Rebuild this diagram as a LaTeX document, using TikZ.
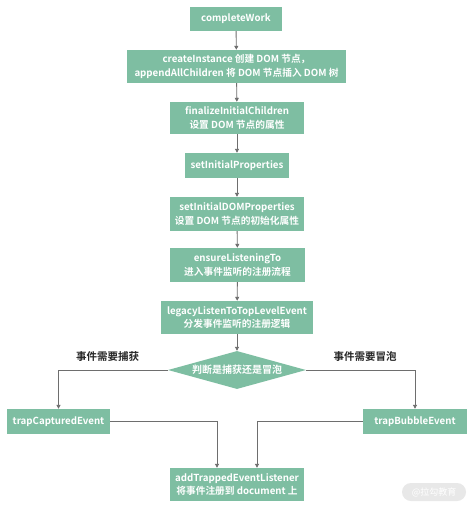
\documentclass[tikz,border=0pt]{standalone}
\usepackage{fontspec}
\setmainfont{Noto Sans CJK SC}[BoldFont={Noto Sans CJK SC Bold}]
\usetikzlibrary{arrows.meta,shapes.geometric}
\definecolor{boxgreen}{RGB}{126,190,162}
\definecolor{linegray}{RGB}{110,110,110}
\definecolor{wmgray}{RGB}{232,232,232}
\tikzset{
  stepbox/.style={fill=boxgreen,draw=none,text=white,font=\bfseries\fontsize{9.7}{13.5}\selectfont,align=center,inner sep=0pt},
  conn/.style={draw=linegray,line width=0.9pt,-{Triangle[length=4pt,width=4pt]}},
  lbl/.style={font=\bfseries\fontsize{10.5}{13}\selectfont,text=black!85}
}
\begin{document}
\begin{tikzpicture}[x=1pt,y=-1pt]
\useasboundingbox[fill=white] (0,0) rectangle (474,508);
\node[stepbox,minimum width=92pt,minimum height=24pt] (cw) at (236,19) {completeWork};
\node[stepbox,minimum width=219pt,minimum height=33pt] (ci) at (236.5,66.5) {createInstance 创建 DOM 节点，\\appendAllChildren 将 DOM 节点插入 DOM 树};
\node[stepbox,minimum width=134pt,minimum height=32pt] (fi) at (237,118) {finalizeInitialChildren\\设置 DOM 节点的属性};
\node[stepbox,minimum width=104pt,minimum height=25pt] (sp) at (237,165.5) {setInitialProperties};
\node[stepbox,minimum width=134pt,minimum height=34pt] (sd) at (237,214) {setInitialDOMProperties\\设置 DOM 节点的初始化属性};
\node[stepbox,minimum width=135pt,minimum height=34pt] (el) at (237.5,265) {ensureListeningTo\\进入事件监听的注册流程};
\node[stepbox,minimum width=152pt,minimum height=33pt] (lg) at (237,317.5) {legacyListenToTopLevelEvent\\分发事件监听的注册逻辑};
\node[diamond,fill=boxgreen,text=white,font=\bfseries\fontsize{10}{13}\selectfont,inner sep=0pt,minimum width=138pt,minimum height=38pt,aspect=3.6] (dm) at (237,370) {判断是捕获还是冒泡};
\node[stepbox,minimum width=103pt,minimum height=25pt] (tc) at (58.5,421.5) {trapCapturedEvent};
\node[stepbox,minimum width=104pt,minimum height=25pt] (tb) at (415,421.5) {trapBubbleEvent};
\node[stepbox,minimum width=134pt,minimum height=33pt] (ad) at (237,484.5) {addTrappedEventListener\\将事件注册到 document 上};
\node[lbl] (lc) at (107.5,357) {事件需要捕获};
\node[lbl] (lb) at (365,357) {事件需要冒泡};
\node[fill=wmgray,rounded corners=9pt,minimum width=64pt,minimum height=18pt,inner sep=0pt,text=white,font=\fontsize{9}{10}\selectfont] (wm) at (434,492) {@拉勾教育};
\draw[conn] (cw) -- (ci);
\draw[conn] (ci) -- (fi);
\draw[conn] (fi) -- (sp);
\draw[conn] (sp) -- (sd);
\draw[conn] (sd) -- (el);
\draw[conn] (el) -- (lg);
\draw[conn] (lg) -- (dm);
\draw[conn] (dm.west) -| (tc.north);
\draw[conn] (dm.east) -| (tb.north);
\draw[conn] (tc.east) -| ([xshift=-20pt]ad.north);
\draw[conn] (tb.west) -| ([xshift=20pt]ad.north);
\end{tikzpicture}
\end{document}
